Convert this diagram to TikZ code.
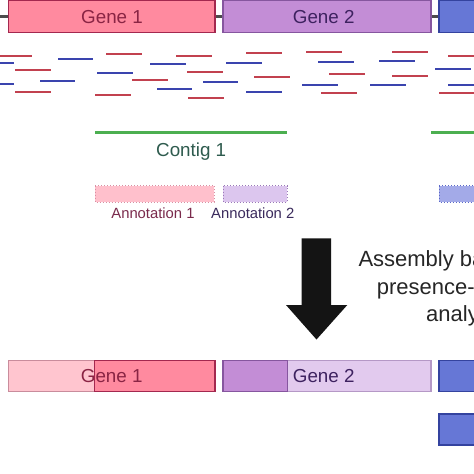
\documentclass[tikz,border=0pt]{standalone}
\usepackage{fontspec}
\setmainfont{Liberation Sans}
\definecolor{gOneFill}{HTML}{FF8A9F}
\definecolor{gOneDraw}{HTML}{A3284F}
\definecolor{gOneText}{HTML}{8A2444}
\definecolor{gOneLight}{HTML}{FFC5CF}
\definecolor{gOneLightDraw}{HTML}{C98C9C}
\definecolor{gTwoFill}{HTML}{C38DD6}
\definecolor{gTwoDraw}{HTML}{86569F}
\definecolor{gTwoText}{HTML}{3E2260}
\definecolor{gTwoLight}{HTML}{E2CAEE}
\definecolor{gTwoLightDraw}{HTML}{B598C6}
\definecolor{gThreeFill}{HTML}{6677D6}
\definecolor{gThreeDraw}{HTML}{34439F}
\definecolor{readRed}{HTML}{C2414F}
\definecolor{readBlue}{HTML}{3A44AE}
\definecolor{contigGreen}{HTML}{4CAF50}
\definecolor{contigText}{HTML}{2E5B4E}
\definecolor{annOneFill}{HTML}{FFC0CC}
\definecolor{annOneDraw}{HTML}{D88FA3}
\definecolor{annTwoFill}{HTML}{DCC6EE}
\definecolor{annTwoDraw}{HTML}{9A78B8}
\definecolor{annThreeFill}{HTML}{A3AAE8}
\definecolor{annThreeDraw}{HTML}{5A68C8}
\definecolor{annOneText}{HTML}{7A2A4C}
\definecolor{annTwoText}{HTML}{3A2A5C}
\tikzset{
  genebox/.style={line width=1.1pt},
  readR/.style={draw=readRed, line width=1.8pt},
  readB/.style={draw=readBlue, line width=1.8pt},
  genelabel/.style={anchor=base west, inner sep=0pt, font=\fontsize{18.8}{22}\selectfont},
  annlabel/.style={anchor=base west, inner sep=0pt, font=\fontsize{14.8}{18}\selectfont},
  asmlabel/.style={anchor=base west, inner sep=0pt, font=\fontsize{22}{24}\selectfont, text=black!85},
  annbox/.style={line width=1pt, dotted},
}
\begin{document}
\begin{tikzpicture}[x=1pt,y=-1pt]
\useasboundingbox (0,0) rectangle (474,474);
\clip (0,0) rectangle (474,474);
\fill[white] (0,0) rectangle (474,474);
% backbone
\draw[line width=2.6pt, draw=black!70] (0,16.5) -- (480,16.5);
% top genes
\draw[genebox, fill=gOneFill, draw=gOneDraw] (8.3,0.8) rectangle (215,32.2);
\draw[genebox, fill=gTwoFill, draw=gTwoDraw] (223,0.8) rectangle (431,32.2);
\draw[genebox, fill=gThreeFill, draw=gThreeDraw] (439,0.8) rectangle (480,32.2);
\node[genelabel, text=gOneText] (g1) at (81,23.5) {Gene 1};
\node[genelabel, text=gTwoText] (g2) at (292.7,23.5) {Gene 2};
% reads
\draw[readR] (0,55.7) -- (32,55.7);
\draw[readR] (106,54) -- (142,54);
\draw[readR] (176,55.7) -- (212,55.7);
\draw[readR] (246,53) -- (282,53);
\draw[readR] (306,52) -- (342,52);
\draw[readR] (392,52) -- (428,52);
\draw[readR] (448,55.7) -- (480,55.7);
\draw[readR] (15,70.3) -- (51,70.3);
\draw[readR] (187,71.7) -- (223,71.7);
\draw[readR] (132,80.3) -- (168,80.3);
\draw[readR] (254,76.7) -- (290,76.7);
\draw[readR] (329,74) -- (365,74);
\draw[readR] (392,76) -- (428,76);
\draw[readR] (15,91.7) -- (51,91.7);
\draw[readR] (95,94.7) -- (131,94.7);
\draw[readR] (188,98.3) -- (224,98.3);
\draw[readR] (321,93.3) -- (357,93.3);
\draw[readR] (439,93.3) -- (480,93.3);
\draw[readB] (0,62.7) -- (14,62.7);
\draw[readB] (58,58.7) -- (93,58.7);
\draw[readB] (150,64.3) -- (186,64.3);
\draw[readB] (226,62.7) -- (262,62.7);
\draw[readB] (318,61.7) -- (354,61.7);
\draw[readB] (379,61) -- (415,61);
\draw[readB] (435,69) -- (471,69);
\draw[readB] (97,72.7) -- (133,72.7);
\draw[readB] (40,81) -- (75,81);
\draw[readB] (0,84) -- (14,84);
\draw[readB] (203,82) -- (238,82);
\draw[readB] (157,89.3) -- (192,89.3);
\draw[readB] (246,91.7) -- (282,91.7);
\draw[readB] (302,85.3) -- (338,85.3);
\draw[readB] (370,85.3) -- (406,85.3);
\draw[readB] (448,85.3) -- (480,85.3);
% contigs
\draw[draw=contigGreen, line width=3pt] (95,132.5) -- (287,132.5);
\draw[draw=contigGreen, line width=3pt] (431,132.5) -- (480,132.5);
\node[genelabel, text=contigText] (c1) at (156,156.7) {Contig 1};
% annotations
\draw[annbox, fill=annOneFill, draw=annOneDraw] (95,185.7) rectangle (214,202);
\draw[annbox, fill=annTwoFill, draw=annTwoDraw] (223,185.7) rectangle (287,202);
\draw[annbox, fill=annThreeFill, draw=annThreeDraw] (439,185.7) rectangle (480,202);
\node[annlabel, text=annOneText] (a1) at (111.2,218.5) {Annotation 1};
\node[annlabel, text=annTwoText] (a2) at (211,218.5) {Annotation 2};
% arrow
\fill[black!92] (301.7,238.3) -- (331,238.3) -- (331,305) -- (347.3,305) -- (316.5,339.5) -- (286,305) -- (301.7,305) -- cycle;
\node[asmlabel] (t1) at (358.3,266.7) {Assembly based on};
\node[asmlabel] (t2) at (376.7,294) {presence-absence};
\node[asmlabel] (t3) at (426,321.7) {analysis};
% bottom
\draw[genebox, fill=gOneLight, draw=gOneLightDraw] (8.3,360.5) rectangle (215,391.5);
\draw[genebox, fill=gOneFill, draw=gOneDraw] (94.3,360.5) rectangle (215,391.5);
\draw[genebox, fill=gTwoLight, draw=gTwoLightDraw] (223,360.5) rectangle (431,391.5);
\draw[genebox, fill=gTwoFill, draw=gTwoDraw] (223,360.5) rectangle (287.3,391.5);
\draw[genebox, fill=gThreeFill, draw=gThreeDraw] (439,360.5) rectangle (480,391.5);
\draw[genebox, fill=gThreeFill, draw=gThreeDraw] (439,414) rectangle (480,445);
\node[genelabel, text=gOneText] (b1) at (80.7,382) {Gene 1};
\node[genelabel, text=gTwoText] (b2) at (292.7,382) {Gene 2};
\end{tikzpicture}
\end{document}
